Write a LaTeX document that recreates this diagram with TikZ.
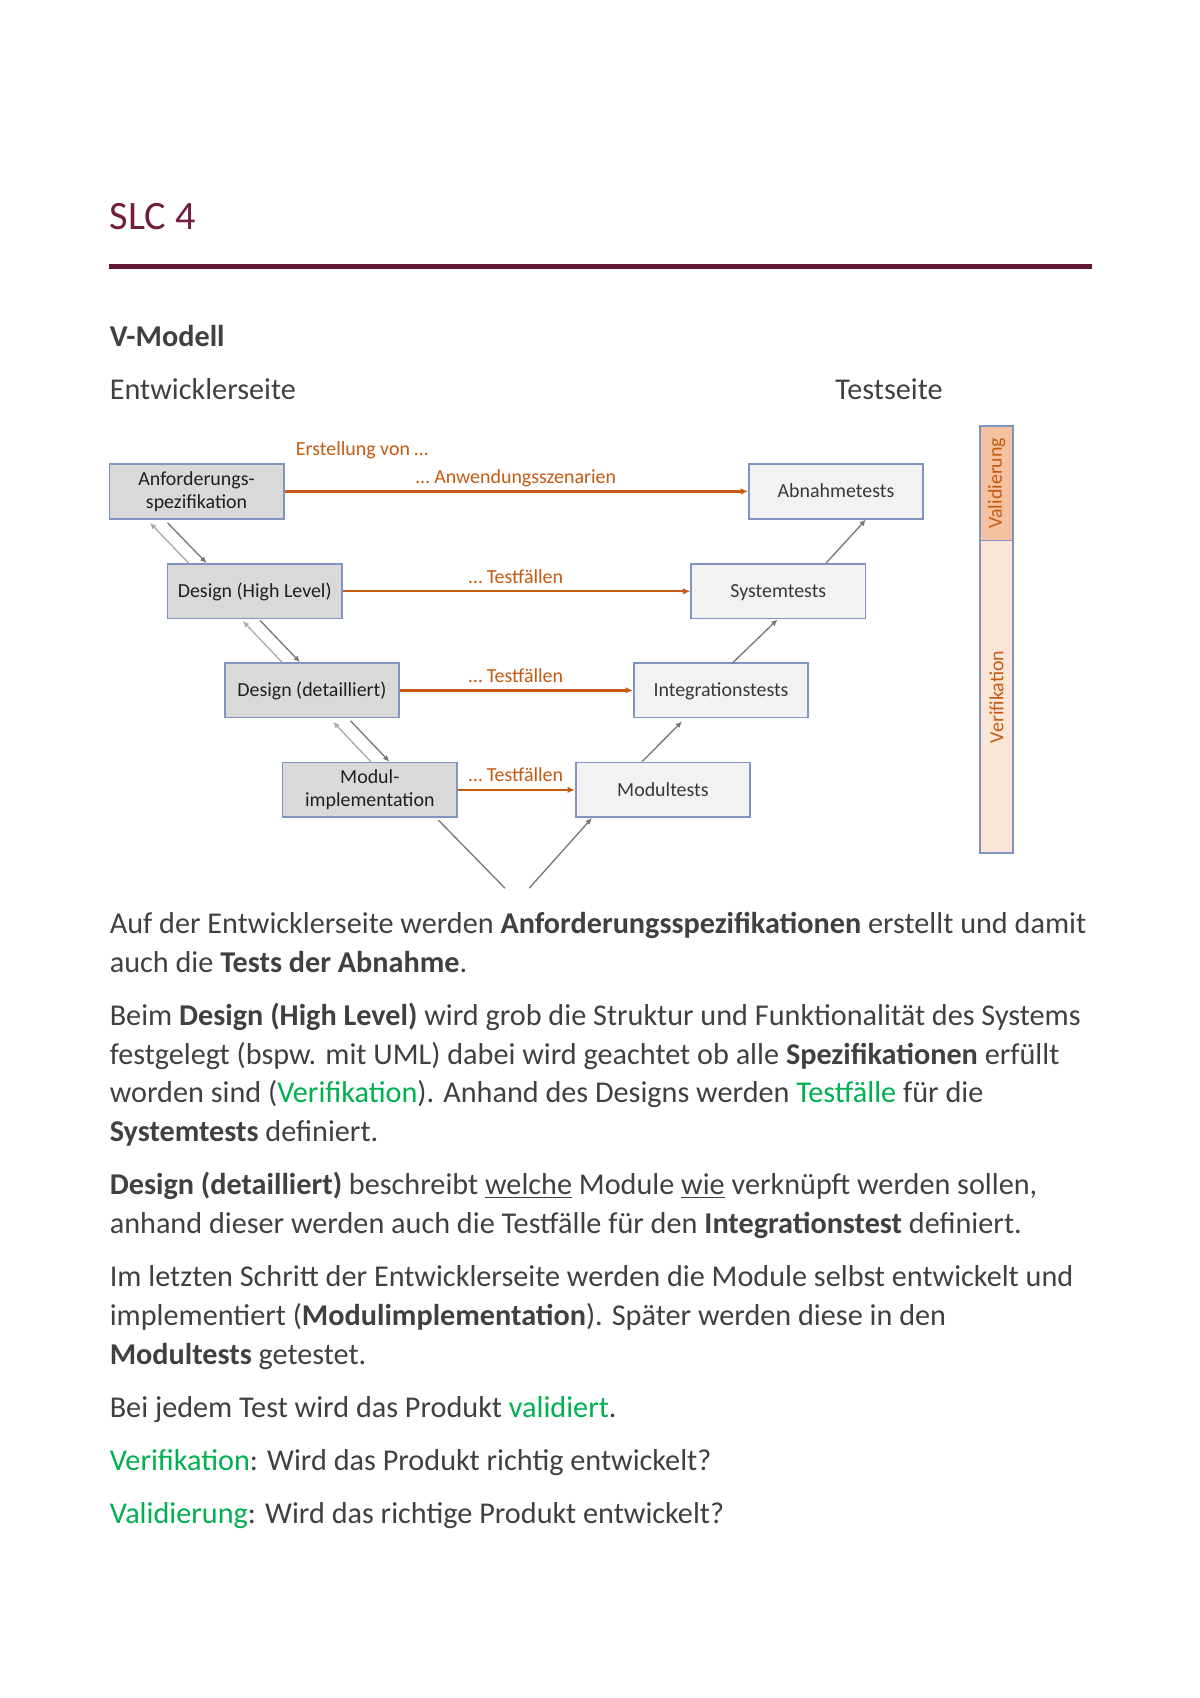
\documentclass[tikz,border=0pt]{standalone}
\usepackage{fontspec}
\setmainfont{Carlito}
\usetikzlibrary{arrows.meta,calc}
\definecolor{burg}{RGB}{112,30,64}
\definecolor{rulec}{RGB}{96,24,52}
\definecolor{bodyc}{RGB}{64,64,64}
\definecolor{grn}{RGB}{0,176,80}
\definecolor{org}{RGB}{197,90,17}
\definecolor{bord}{RGB}{128,148,196}
\definecolor{darkbox}{RGB}{217,217,217}
\definecolor{lightbox}{RGB}{242,242,242}
\definecolor{valfill}{RGB}{244,194,160}
\definecolor{verfill}{RGB}{251,229,214}
\definecolor{arrdark}{RGB}{118,118,118}
\definecolor{arrlight}{RGB}{170,170,170}
\newcommand{\grn}[1]{\textcolor{grn}{#1}}
\begin{document}
\begin{tikzpicture}[x=0.5pt,y=-0.5pt,
  bodyline/.style={anchor=base west, inner sep=0pt, text=bodyc, font=\fontsize{13.95}{17.9}\selectfont},
  devbox/.style={draw=bord, line width=0.75pt, fill=darkbox, minimum width=80.5pt, minimum height=25.2pt, inner sep=0pt, align=center, font=\fontsize{9.2}{10.75}\selectfont, text=black!88},
  testbox/.style={devbox, fill=lightbox, text=black!78},
  onebox/.style={text height=1.3ex, text depth=0.1ex},
  orangearrow/.style={draw=org, line width=1.1pt, -{Latex[length=3.4pt,width=3pt]}},
  lbl/.style={anchor=base, inner sep=0pt, text=org, font=\fontsize{9.2}{11}\selectfont},
  downarrow/.style={draw=arrdark, line width=0.6pt, -{Latex[length=3pt,width=2.6pt]}},
  uparrow/.style={draw=arrlight, line width=0.6pt, -{Latex[length=3pt,width=2.6pt]}},
  testarrow/.style={draw=arrdark, line width=0.6pt, -{Latex[length=3pt,width=2.6pt]}},
  sidebar/.style={draw=bord, line width=0.8pt, inner sep=0pt, text=org, minimum height=15.35pt, font=\fontsize{9.2}{11}\selectfont}
]
\useasboundingbox[fill=white] (0,0) rectangle (1108,1568);

% header
\node[anchor=base west, inner sep=0pt, text=burg, font=\fontsize{18.6}{22}\selectfont] (title) at (101,212) {SLC 4};
\coordinate (rl) at (101,246.2);
\coordinate (rr) at (1008,246.2);
\draw[rulec, line width=2.15pt] (rl) -- (rr);
\node[bodyline, font=\fontsize{13.95}{17.9}\selectfont\bfseries] (vm) at (101,320.1) {V-Modell};
\node[bodyline] (ents) at (101,369.3) {Entwicklerseite};
\node[bodyline] (tests) at (771,369.3) {Testseite};

% boxes
\node[devbox] (anf) at (181.5,453.8) {Anforderungs-\\spezifikation};
\node[devbox, onebox] (dhl) at (235.2,546) {Design (High Level)};
\node[devbox, onebox] (ddt) at (288,637.5) {Design (detailliert)};
\node[devbox] (mod) at (341.5,729.4) {Modul-\\implementation};
\node[testbox, onebox] (abn) at (772,453.8) {Abnahmetests};
\node[testbox, onebox] (sys) at (718.7,546) {Systemtests};
\node[testbox, onebox] (int) at (665.8,637.5) {Integrationstests};
\node[testbox, onebox] (mdt) at (612.2,729.4) {Modultests};

% orange arrows and labels
\draw[orangearrow] (anf.east) -- (abn.west);
\draw[orangearrow] (dhl.east) -- (sys.west);
\draw[orangearrow] (ddt.east) -- (int.west);
\draw[orangearrow] (mod.east) -- (mdt.west);
\node[lbl] (erst) at (334.4,421) {Erstellung von …};
\node[lbl] (anw) at (476.5,446.3) {… Anwendungsszenarien};
\node[lbl] (tf1) at (476.3,538.6) {… Testfällen};
\node[lbl] (tf2) at (476.3,630) {… Testfällen};
\node[lbl] (tf3) at (476.3,721.8) {… Testfällen};

% left down/up arrows
\draw[downarrow] ($(anf.south west)+(54.4,3)$) -- ($(dhl.north west)+(36.9,0)$);
\draw[uparrow] ($(dhl.north west)+(20.3,0)$) -- ($(anf.south west)+(38.2,3)$);
\draw[downarrow] ($(dhl.south west)+(86.2,1)$) -- ($(ddt.north west)+(70.3,0)$);
\draw[uparrow] ($(ddt.north west)+(53.7,0)$) -- ($(dhl.south west)+(70.2,1.5)$);
\draw[downarrow] ($(ddt.south west)+(116.8,2)$) -- ($(mod.north west)+(99.4,0)$);
\draw[uparrow] ($(mod.north west)+(82.2,0)$) -- ($(ddt.south west)+(100.8,3)$);

% right up arrows
\draw[testarrow] ($(mdt.north west)+(61.9,0)$) -- ($(int.south west)+(45.3,2.7)$);
\draw[testarrow] ($(int.north west)+(91.5,1)$) -- ($(sys.south west)+(80.6,0)$);
\draw[testarrow] ($(sys.north west)+(125.3,0)$) -- ($(abn.south west)+(108.9,0)$);

% bottom V
\coordinate (vl) at (466.3,820.2);
\coordinate (vr) at (488.7,820.2);
\draw[draw=arrdark, line width=0.6pt] ($(mod.south west)+(144.6,2)$) -- (vl);
\draw[testarrow] (vr) -- ($(mdt.south west)+(15.7,0)$);

% side bar
\node[sidebar, fill=valfill, minimum width=52.95pt, rotate=90] (val) at (920.25,446.25) {Validierung};
\node[sidebar, fill=verfill, minimum width=144.35pt, rotate=90] (ver) at (920.25,643.55) {Verifikation};

% body text
\node[bodyline] (l1) at (101,862) {Auf der Entwicklerseite werden \textbf{Anforderungsspezifikationen} erstellt und damit};
\node[bodyline] (l2) at (101,897.8) {auch die \textbf{Tests der Abnahme}.};
\node[bodyline] (l3) at (101,946.8) {Beim \textbf{Design (High Level)} wird grob die Struktur und Funktionalität des Systems};
\node[bodyline] (l4) at (101,982.6) {festgelegt (bspw. mit UML) dabei wird geachtet ob alle \textbf{Spezifikationen} erfüllt};
\node[bodyline] (l5) at (101,1018.4) {worden sind (\grn{Verifikation}). Anhand des Designs werden \grn{Testfälle} für die};
\node[bodyline] (l6) at (101,1054.2) {\textbf{Systemtests} definiert.};
\node[bodyline] (l7) at (101,1103.2) {\textbf{Design (detailliert)} beschreibt \underline{welche} Module \underline{wie} verknüpft werden sollen,};
\node[bodyline] (l8) at (101,1139) {anhand dieser werden auch die Testfälle für den \textbf{Integrationstest} definiert.};
\node[bodyline] (l9) at (101,1188) {Im letzten Schritt der Entwicklerseite werden die Module selbst entwickelt und};
\node[bodyline] (l10) at (101,1223.8) {implementiert (\textbf{Modulimplementation}). Später werden diese in den};
\node[bodyline] (l11) at (101,1259.6) {\textbf{Modultests} getestet.};
\node[bodyline] (l12) at (101,1308.6) {Bei jedem Test wird das Produkt \grn{validiert}.};
\node[bodyline] (l13) at (101,1357.6) {\grn{Verifikation}: Wird das Produkt richtig entwickelt?};
\node[bodyline] (l14) at (101,1406.6) {\grn{Validierung}: Wird das richtige Produkt entwickelt?};
\end{tikzpicture}
\end{document}
